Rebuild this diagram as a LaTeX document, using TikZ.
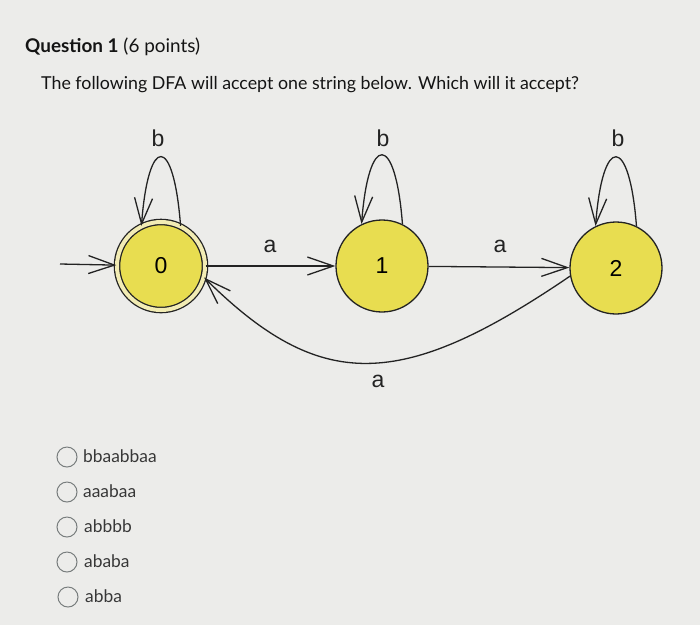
\documentclass[tikz,border=0pt]{standalone}
\usepackage{fontspec}
\setmainfont{Lato}
\newfontfamily\diagfont{Liberation Sans}
\usetikzlibrary{arrows.meta}
\definecolor{bg}{RGB}{236,236,234}
\definecolor{stfill}{RGB}{232,221,80}
\definecolor{ring}{RGB}{242,236,180}
\definecolor{txt}{RGB}{20,20,20}
\definecolor{opt}{RGB}{55,55,55}
\definecolor{radio}{RGB}{120,125,125}
\definecolor{ln}{RGB}{35,35,35}
\begin{document}
\begin{tikzpicture}[x=1pt,y=-1pt,
  state/.style={circle, draw=ln, fill=stfill, line width=1.3pt, minimum size=92pt, inner sep=0pt, font=\diagfont\fontsize{23}{23}\selectfont},
  accept/.style={state, minimum size=88pt, double=ring, double distance=4pt},
  edge/.style={line width=1.3pt, draw=ln, -{Straight Barb[length=26pt,width=18pt,line width=1.3pt]}},
  lbl/.style={font=\diagfont\fontsize{23}{23}\selectfont, inner sep=0pt, text=ln},
  radiobtn/.style={circle, draw=radio, line width=1pt, minimum size=20pt, inner sep=0pt},
  option/.style={anchor=base west, text=opt, font=\fontsize{17.4}{17.4}\selectfont, inner sep=0pt},
  heading/.style={anchor=base west, text=txt, inner sep=0pt}
]
\fill[bg] (0,0) rectangle (700,625);
\useasboundingbox (0,0) rectangle (700,625);

\node[heading, font=\fontsize{18.9}{18.9}\selectfont] (q) at (25,52) {\textbf{Question 1} (6 points)};
\node[heading, font=\fontsize{17.8}{17.8}\selectfont] (stmt) at (41,89) {The following DFA will accept one string below. Which will it accept?};

\node[accept] (s0) at (161,266) {0};
\node[state] (s1) at (382,266) {1};
\node[state] (s2) at (616,268) {2};
\coordinate (init) at (60,264);

\draw[edge] (init) -- (s0);
\draw[edge] (s0) -- (s1);
\draw[edge] (s1) -- (s2);
\draw[edge] (s2.190) .. controls (400,392) and (320,392) .. (s0.345);
\draw[edge] (s0.64) .. controls +(-7,-92) and +(7,-92) .. (s0.116);
\draw[edge] (s1.64) .. controls +(-7,-92) and +(7,-92) .. (s1.116);
\draw[edge] (s2.64) .. controls +(-7,-92) and +(7,-92) .. (s2.116);

\node[lbl] (lb0) at (158,138) {b};
\node[lbl] (lb1) at (383,138) {b};
\node[lbl] (lb2) at (618,138) {b};
\node[lbl] (la01) at (270,246) {a};
\node[lbl] (la12) at (500,246) {a};
\node[lbl] (la20) at (378,381) {a};

\node[radiobtn] (r1) at (67,457) {};
\node[radiobtn] (r2) at (67,492) {};
\node[radiobtn] (r3) at (67,527) {};
\node[radiobtn] (r4) at (67,562) {};
\node[radiobtn] (r5) at (68,597) {};
\node[option] (o1) at (83,462) {bbaabbaa};
\node[option] (o2) at (83,497) {aaabaa};
\node[option] (o3) at (84,532) {abbbb};
\node[option] (o4) at (84,567) {ababa};
\node[option] (o5) at (85,602) {abba};
\end{tikzpicture}
\end{document}
